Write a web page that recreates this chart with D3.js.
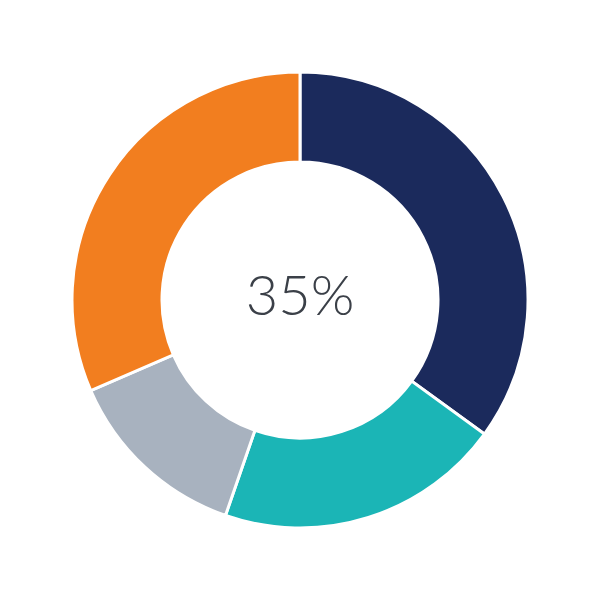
<!DOCTYPE html>
<html><head><meta charset="utf-8">
<script src="https://cdn.jsdelivr.net/npm/d3@7"></script>
<style>html,body{margin:0;padding:0;background:#fff;}</style>
</head><body>
<svg id="c" width="600" height="600"></svg>
<script>
const categories = ["A", "B", "C", "D"];
const values = [35, 20.3, 13.2, 31.5];
const colors = ["#1b2a5c", "#1bb5b6", "#a8b2bf", "#f27e1f"];
const centerLabel = "35%";

const svg = d3.select("#c");
const g = svg.append("g").attr("transform", "translate(300,300)");
const pie = d3.pie().sort(null).value(d => d.v);
const arc = d3.arc().innerRadius(138).outerRadius(228);
const data = categories.map((c, i) => ({c, v: values[i], col: colors[i]}));
g.selectAll("path").data(pie(data)).join("path")
  .attr("d", arc).attr("fill", d => d.data.col)
  .attr("stroke", "#fff").attr("stroke-width", 3);
g.append("text").attr("text-anchor", "middle").attr("y", 15)
  .style("font-family", "Lato, 'Open Sans', sans-serif").style("font-weight", 300)
  .style("font-size", "56px").attr("fill", "#3b4048").text(centerLabel);
</script>
</body></html>
